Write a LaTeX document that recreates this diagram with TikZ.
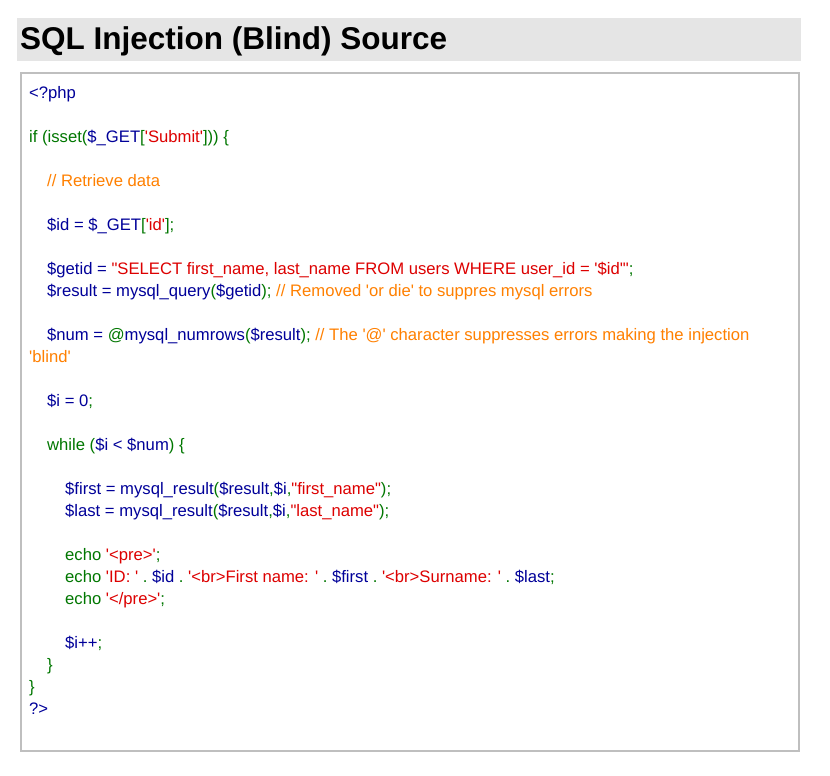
\documentclass[tikz,border=0pt]{standalone}
\usepackage{fontspec}
\setmainfont{Liberation Sans}[Ligatures=TeXOff]
\definecolor{cB}{HTML}{000099}
\definecolor{cG}{HTML}{007700}
\definecolor{cR}{HTML}{DD0000}
\definecolor{cO}{HTML}{FF8000}
\newcommand\B[1]{\textcolor{cB}{#1}}
\newcommand\G[1]{\textcolor{cG}{#1}}
\newcommand\R[1]{\textcolor{cR}{#1}}
\newcommand\Oc[1]{\textcolor{cO}{#1}}
\tikzset{codeline/.style={anchor=base west,inner sep=0pt,font=\fontsize{16.65}{19}\selectfont}}
\begin{document}
\begin{tikzpicture}[x=1pt,y=-1pt]
\useasboundingbox (0,0) rectangle (830,776);
\fill[white] (0,0) rectangle (830,776);
\fill[black!10] (17,18) rectangle (801,61);
\node[anchor=base west,inner sep=0pt,font=\fontsize{31.5}{34}\bfseries] (title) at (20,49) {SQL Injection (Blind) Source};
\draw[black!25,line width=2pt] (21,73) rectangle (799,751);
\def\L#1#2#3{\node[codeline] (l#1) at (#2,#1+6) {#3};}
\L{92}{29}{\B{<?php}}
\L{136}{29}{\G{if (isset(}\B{\$\_GET}\G{[}\R{'Submit'}\G{])) \{}}
\L{180}{47}{\Oc{// Retrieve data}}
\L{224}{47}{\B{\$id = \$\_GET}\G{[}\R{'id'}\G{];}}
\L{268}{47}{\B{\$getid = }\R{"SELECT first\_name, last\_name FROM users WHERE user\_id = '\$id'"}\G{;}}
\L{290}{47}{\B{\$result = mysql\_query}\G{(}\B{\$getid}\G{);~}\Oc{// Removed 'or die' to suppres mysql errors}}
\L{334}{47}{\B{\$num =~}\G{@}\B{mysql\_numrows}\G{(}\B{\$result}\G{);~}\Oc{// The '@' character suppresses errors making the injection}}
\L{356}{29}{\Oc{'blind'}}
\L{400}{47}{\B{\$i = 0}\G{;}}
\L{444}{47}{\G{while (}\B{\$i < \$num}\G{) \{}}
\L{488}{65}{\B{\$first = mysql\_result}\G{(}\B{\$result}\G{,}\B{\$i}\G{,}\R{"first\_name"}\G{);}}
\L{510}{65}{\B{\$last = mysql\_result}\G{(}\B{\$result}\G{,}\B{\$i}\G{,}\R{"last\_name"}\G{);}}
\L{554}{65}{\G{echo~}\R{'<pre>'}\G{;}}
\L{576}{65}{\G{echo~}\R{'ID: '}\G{~.~}\B{\$id}\G{~.~}\R{'<br>First name: '}\G{~.~}\B{\$first}\G{~.~}\R{'<br>Surname: '}\G{~.~}\B{\$last}\G{;}}
\L{598}{65}{\G{echo~}\R{'</pre>'}\G{;}}
\L{642}{65}{\B{\$i++}\G{;}}
\L{664}{47}{\G{\}}}
\L{686}{29}{\G{\}}}
\L{708}{29}{\B{?>}}
\end{tikzpicture}
\end{document}
